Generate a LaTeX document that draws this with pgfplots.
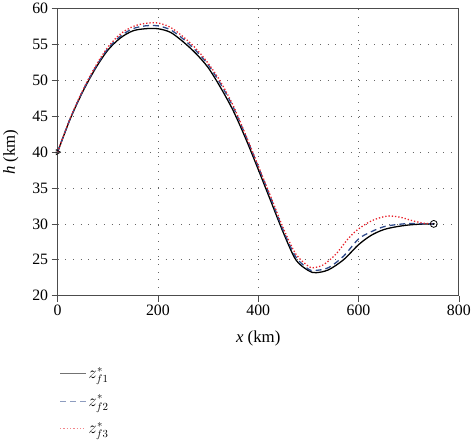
\documentclass[border=0pt]{standalone}
\usepackage{pgfplots}
\pgfplotsset{compat=1.18}
\usepackage{fontspec}
\setmainfont{Liberation Serif}
\definecolor{dblue}{HTML}{2F4A8A}
\definecolor{dred}{HTML}{E8202A}
\begin{document}
\begin{tikzpicture}[x=1bp,y=1bp]
\begin{axis}[
  scale only axis, width=404bp, height=289bp,
  xmin=0, xmax=800, ymin=20, ymax=60,
  xtick={0,200,400,600,800}, ytick={20,25,...,60},
  tick pos=left, tick align=outside, major tick length=6bp,
  axis line style={black!70, line width=0.8pt},
  every tick/.style={black!70, line width=0.6pt},
  grid=major,
  major grid style={black!60, line width=0.7pt, dash pattern=on 0.8pt off 7pt},
  ticklabel style={font=\fontsize{16}{18}\selectfont},
  /pgf/number format/assume math mode=true,
  xlabel={\fontsize{17}{19}\selectfont\textit{x} (km)},
  ylabel={\fontsize{17}{19}\selectfont\textit{h} (km)},
  xlabel style={yshift=-8bp},
  ylabel style={yshift=7bp},
  legend style={at={(0,-0.235)}, anchor=north west, draw=none, fill=none,
    font=\fontsize{16}{18}\selectfont, row sep=11bp, legend cell align=left,
    inner xsep=2bp},
  legend image code/.code={\draw[#1, opacity=0.55, line width=0.9pt] (0bp,0bp) -- (26bp,0bp);},
]
\addplot[black, line width=1.3pt, smooth] coordinates {
(0,40) (25,44.6) (50,48.4) (75,51.6) (100,54.2) (125,55.9) (150,56.9) (175,57.2) (200,57.2) (225,56.7) (250,55.4) (275,53.8) (300,51.8) (325,49.0) (350,45.8) (375,41.9) (400,37.6) (425,33.2) (450,28.8) (475,25.0) (500,23.5) (515,23.2) (540,23.6) (570,25.0) (600,27.1) (625,28.4) (650,29.2) (675,29.6) (700,29.85) (725,29.97) (750,30)};
\addlegendentry{$z^{*}_{f1}$}
\addplot[dblue, line width=1.3pt, dash pattern=on 6pt off 4pt, smooth] coordinates {
(0,40) (25,44.65) (50,48.5) (75,51.75) (100,54.4) (125,56.15) (150,57.2) (175,57.6) (200,57.6) (225,57.05) (250,55.8) (275,54.2) (300,52.2) (325,49.5) (350,46.3) (375,42.3) (400,38.0) (425,33.6) (450,29.1) (475,25.4) (500,23.7) (512,23.5) (540,23.9) (570,25.5) (600,27.9) (625,28.9) (650,29.6) (675,29.9) (700,30.05) (725,30.02) (750,30)};
\addlegendentry{$z^{*}_{f2}$}
\addplot[dred, line width=1.3pt, dotted, smooth] coordinates {
(0,40) (25,44.7) (50,48.6) (75,51.9) (100,54.6) (125,56.45) (150,57.5) (175,57.95) (200,58.0) (225,57.4) (250,56.1) (275,54.5) (300,52.4) (325,49.8) (350,46.5) (375,42.4) (400,38.1) (425,33.8) (450,29.4) (475,25.8) (500,24.1) (510,23.9) (530,24.3) (555,25.8) (580,28.0) (600,29.3) (625,30.4) (650,31.0) (665,31.1) (685,30.9) (710,30.4) (730,30.1) (750,30)};
\addlegendentry{$z^{*}_{f3}$}
\addplot[only marks, mark=triangle, mark size=3pt, mark options={rotate=-90, black, line width=0.7pt}, forget plot] coordinates {(0,40)};
\addplot[only marks, mark=o, mark size=3.5pt, mark options={black, line width=0.8pt}, forget plot] coordinates {(750,30)};
\addplot[only marks, mark=*, mark size=0.8pt, mark options={black}, forget plot] coordinates {(750,30)};
\end{axis}
\end{tikzpicture}
\end{document}
